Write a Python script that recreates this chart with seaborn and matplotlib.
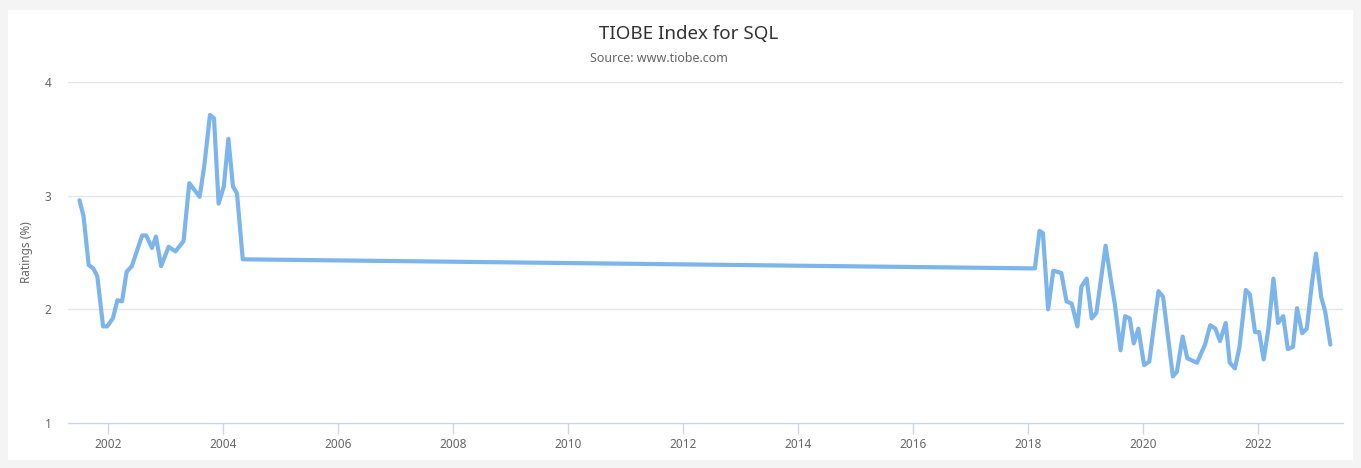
import matplotlib
matplotlib.use("Agg")
import matplotlib.pyplot as plt
import seaborn as sns
import pandas as pd

# --- data (decimal years, ratings %) ---
years_early = [2001.50, 2001.57, 2001.66, 2001.74, 2001.81, 2001.91, 2001.98, 2002.08,
               2002.16, 2002.24, 2002.32, 2002.41, 2002.59, 2002.66, 2002.76, 2002.83,
               2002.92, 2003.05, 2003.17, 2003.31, 2003.41, 2003.59, 2003.67, 2003.77,
               2003.84, 2003.92, 2004.01, 2004.09, 2004.17, 2004.24, 2004.34]
ratings_early = [2.96, 2.82, 2.39, 2.36, 2.29, 1.85, 1.85, 1.92,
                 2.08, 2.07, 2.33, 2.38, 2.65, 2.65, 2.54, 2.64,
                 2.38, 2.55, 2.51, 2.60, 3.11, 2.99, 3.26, 3.71,
                 3.68, 2.93, 3.08, 3.50, 3.08, 3.02, 2.44]
years_late = [2018.12, 2018.20, 2018.26, 2018.35, 2018.44, 2018.58, 2018.67, 2018.76,
              2018.86, 2018.93, 2019.02, 2019.11, 2019.19, 2019.35, 2019.46, 2019.51,
              2019.61, 2019.69, 2019.77, 2019.84, 2019.92, 2020.02, 2020.11, 2020.27,
              2020.35, 2020.52, 2020.59, 2020.69, 2020.77, 2020.94, 2021.08, 2021.17,
              2021.26, 2021.34, 2021.44, 2021.51, 2021.60, 2021.68, 2021.79, 2021.86,
              2021.95, 2022.02, 2022.10, 2022.18, 2022.27, 2022.35, 2022.44, 2022.52,
              2022.61, 2022.68, 2022.77, 2022.85, 2022.94, 2023.01, 2023.10, 2023.17,
              2023.26]
ratings_late = [2.36, 2.69, 2.67, 2.00, 2.34, 2.32, 2.07, 2.05,
                1.85, 2.20, 2.27, 1.92, 1.97, 2.56, 2.20, 2.05,
                1.64, 1.94, 1.92, 1.70, 1.83, 1.51, 1.54, 2.16,
                2.11, 1.41, 1.45, 1.76, 1.57, 1.53, 1.69, 1.86,
                1.83, 1.72, 1.88, 1.53, 1.48, 1.67, 2.17, 2.13,
                1.80, 1.80, 1.56, 1.82, 2.27, 1.88, 1.94, 1.65,
                1.67, 2.01, 1.79, 1.83, 2.23, 2.49, 2.11, 1.98,
                1.69]
x_ticks = [2002, 2004, 2006, 2008, 2010, 2012, 2014, 2016, 2018, 2020, 2022]
y_ticks = [1, 2, 3, 4]

df = pd.DataFrame({"year": years_early + years_late,
                   "rating": ratings_early + ratings_late})

sns.set_theme(style="white")
plt.rcParams["font.family"] = ["Noto Sans", "DejaVu Sans"]

fig = plt.figure(figsize=(13.61, 4.68), dpi=100, facecolor="#f4f4f4")
# white panel
panel = fig.add_axes([8 / 1361, 1 - 460 / 468, 1345 / 1361, 450 / 468])
panel.set_facecolor("white")
panel.set_xticks([]); panel.set_yticks([])
for s in panel.spines.values():
    s.set_visible(False)
panel.set_zorder(0)

ax = fig.add_axes([68 / 1361, 45 / 468, 1275 / 1361, 341 / 468])
ax.set_zorder(1)
ax.set_facecolor("none")

sns.lineplot(data=df, x="year", y="rating", ax=ax, color="#7cb5ec",
             linewidth=3.0, solid_joinstyle="round", solid_capstyle="round")

ax.set_xlim(2001.30, 2023.48)
ax.set_ylim(1, 4)
ax.set_xticks(x_ticks)
ax.set_xticklabels([str(t) for t in x_ticks])
ax.set_yticks(y_ticks)
ax.set_yticklabels([str(t) for t in y_ticks])

for y in y_ticks[1:]:
    ax.axhline(y, color="#e6e6e6", linewidth=1, zorder=0)

for side in ["top", "right", "left"]:
    ax.spines[side].set_visible(False)
ax.spines["bottom"].set_color("#ccd6eb")
ax.spines["bottom"].set_linewidth(1)

ax.tick_params(axis="x", length=8, width=1, color="#ccd6eb", colors="#666666",
               labelsize=8.5, pad=3, bottom=True)
ax.tick_params(axis="y", length=0, colors="#666666", labelsize=8.5, pad=12)
for lbl in ax.get_xticklabels() + ax.get_yticklabels():
    lbl.set_color("#666666")

ax.set_xlabel("")
ax.set_ylabel("Ratings (%)", color="#666666", fontsize=8.5, labelpad=8)

fig.text(689 / 1361, 1 - 34 / 468, "TIOBE Index for SQL", ha="center", va="center",
         fontsize=13.5, color="#333333")
fig.text(659 / 1361, 1 - 58 / 468, "Source: www.tiobe.com", ha="center", va="center",
         fontsize=9, color="#666666")

fig.savefig("out.png", dpi=100, facecolor=fig.get_facecolor())
